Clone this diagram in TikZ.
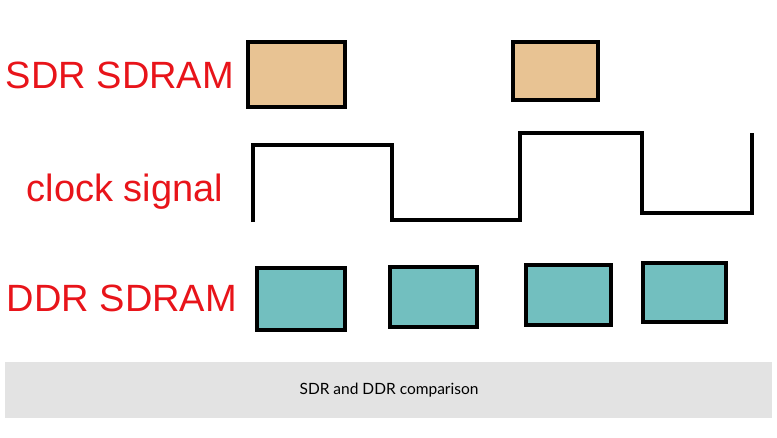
\documentclass[tikz,border=0pt]{standalone}
\usepackage{fontspec}
\setmainfont{Liberation Sans}
\newfontfamily\capfont{Lato}
\definecolor{sdrtan}{HTML}{E8C393}
\definecolor{ddrteal}{HTML}{72BFBF}
\definecolor{labelred}{HTML}{E8141A}
\begin{document}
\begin{tikzpicture}[x=1pt,y=-1pt,
  every node/.style={inner sep=0pt},
  lbl/.style={text=labelred,font=\fontsize{38}{40}\selectfont},
  sdrbox/.style={draw=black,line width=4pt,fill=sdrtan},
  ddrbox/.style={draw=black,line width=4pt,fill=ddrteal}]
\useasboundingbox[fill=white] (0,0) rectangle (777,437);
%caption band
\fill[black!11] (5,362) rectangle (772,418);
\node[font=\capfont\fontsize{15.5}{17}\selectfont] (cap) at (389,390) {SDR and DDR comparison};

%labels
\node[lbl] (sdr) at (120,75) {SDR SDRAM};
\node[lbl] (clk) at (125,192) {clock signal};
\node[lbl] (ddr) at (122,298) {DDR SDRAM};

%data boxes
\draw[sdrbox] (248,42) rectangle (345,107);
\draw[sdrbox] (513,42) rectangle (598,100);
\draw[ddrbox] (257,268) rectangle (345,330);
\draw[ddrbox] (390,267) rectangle (477,327);
\draw[ddrbox] (526,265) rectangle (611,325);
\draw[ddrbox] (643,263) rectangle (726,322);

%clock
\draw[line width=4pt,line join=miter] (253,222) |- (392,145) |- (520,220) |- (642,133) |- (752,213) -- (752,133);
\end{tikzpicture}
\end{document}
